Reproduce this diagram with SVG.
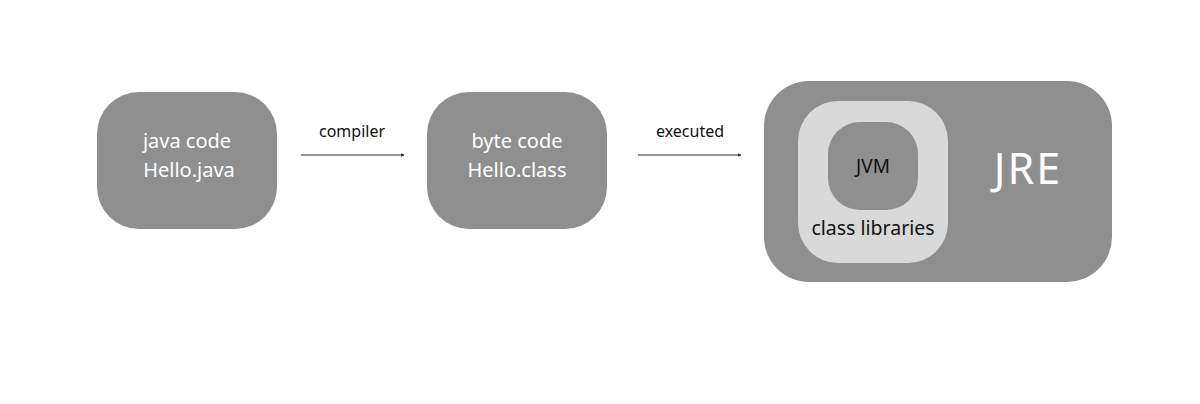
<svg xmlns="http://www.w3.org/2000/svg" width="1200" height="404" viewBox="0 0 1200 404">
<defs>
<style>
.box{fill:#8f8f8f}
.inner{fill:#d9d9d9}
.wt{fill:#ffffff;font-family:"Noto Sans","Open Sans",sans-serif;font-size:20px;text-anchor:middle}
.bt{fill:#111111;font-family:"Noto Sans","Open Sans",sans-serif;text-anchor:middle}
.edge{stroke:#333333;stroke-width:1.2;fill:none;marker-end:url(#ah)}
</style>
<marker id="ah" viewBox="0 0 6 6" refX="5" refY="3" markerWidth="3" markerHeight="3" orient="auto"><path d="M0,0 L6,3 L0,6 z" fill="#333333"/></marker>
</defs>
<rect width="1200" height="404" fill="#ffffff"/>
<g id="java-code">
<rect class="box" x="97" y="92" width="180" height="137" rx="42"/>
<text class="wt" x="187" y="148">java code</text>
<text class="wt" x="189" y="177">Hello.java</text>
</g>
<g id="byte-code">
<rect class="box" x="427" y="92" width="180" height="137" rx="42"/>
<text class="wt" x="517" y="148">byte code</text>
<text class="wt" x="517" y="177">Hello.class</text>
</g>
<g id="jre">
<rect class="box" x="764" y="81" width="348" height="201" rx="45"/>
<text class="wt" x="1028" y="184" style="font-size:43px;letter-spacing:2px">JRE</text>
</g>
<g id="class-libraries">
<rect class="inner" x="798" y="101" width="150" height="162" rx="40"/>
<text class="bt" x="873" y="235" style="font-size:19.5px">class libraries</text>
</g>
<g id="jvm">
<rect class="box" x="828" y="122" width="90" height="88" rx="32"/>
<text class="bt" x="873" y="173" style="font-size:19px">JVM</text>
</g>
<g id="connectors">
<line class="edge" x1="301" y1="155" x2="404" y2="155"/>
<text class="bt" x="352" y="137" style="font-size:16px">compiler</text>
<line class="edge" x1="638" y1="155" x2="741" y2="155"/>
<text class="bt" x="690" y="137" style="font-size:16px">executed</text>
</g>
</svg>
